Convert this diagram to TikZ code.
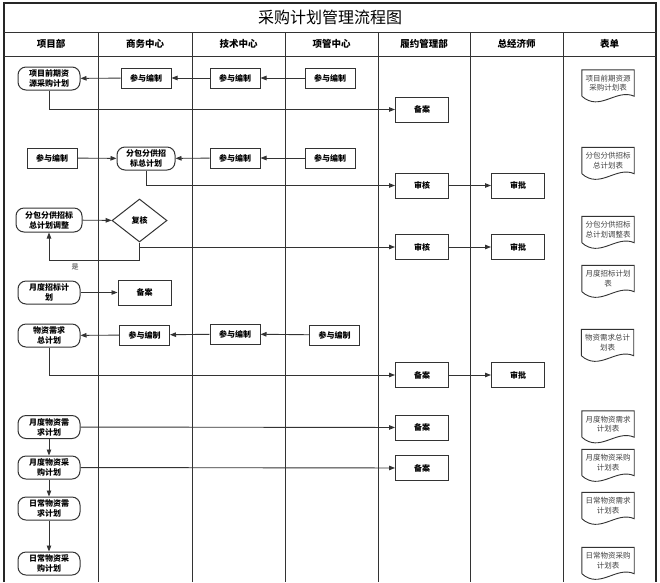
\documentclass[tikz,border=0pt]{standalone}
\usepackage{fontspec}
\setmainfont{Noto Sans CJK SC}
\usetikzlibrary{arrows.meta,shapes.geometric}
\newcommand\docshape[4]{%
  \node[doc] (#1) at (#2,#3) {#4};
  \draw[docline] (#1.south west) -- (#1.north west) -- (#1.north east) -- (#1.south east)
     .. controls ([xshift=-18pt,yshift=8pt]#1.south east) and ([xshift=18pt,yshift=-16pt]#1.south west) .. (#1.south west);
}
\begin{document}
\begin{tikzpicture}[x=1pt,y=-1pt,
  frame/.style={draw=black!85, line width=1.1pt},
  grid/.style={draw=black!80, line width=0.9pt},
  line/.style={draw=black!80, line width=0.9pt},
  arr/.style={line, -{Triangle[length=6pt,width=4.5pt]}},
  term/.style={draw=black!80, line width=1pt, rounded corners=8pt, minimum width=62pt, minimum height=23pt, align=center, inner sep=1pt, font=\fontsize{8}{10}\selectfont\bfseries},
  box/.style={draw=black!80, line width=1pt, minimum width=50pt, minimum height=20pt, inner sep=1pt, font=\fontsize{8}{10}\selectfont\bfseries},
  bigbox/.style={box, minimum width=53pt, minimum height=25pt},
  dia/.style={draw=black!80, line width=1pt, diamond, minimum width=55pt, minimum height=43pt, inner sep=0pt, font=\fontsize{8}{10}\selectfont\bfseries},
  doc/.style={minimum width=52pt, minimum height=26pt, inner sep=0pt, align=center, font=\fontsize{7.5}{9.5}\selectfont, text=black!75},
  docline/.style={draw=black!80, line width=0.9pt},
  hdr/.style={font=\fontsize{9.5}{11}\selectfont\bfseries},
  lbl/.style={font=\fontsize{7}{8}\selectfont, text=black!80},
]
\useasboundingbox (0,0) rectangle (660,582);
\fill[white] (0,0) rectangle (660,582);
% frame
\draw[frame] (4,582) -- (4,3) -- (656,3) -- (656,582);
\draw[grid] (4,32) -- (656,32);
\draw[grid] (4,56) -- (656,56);
\foreach \x in {98,192,285,378,470,563} \draw[grid] (\x,32) -- (\x,582);
\node[font=\fontsize{16}{18}\selectfont] (title) at (330,17.5) {采购计划管理流程图};
\node[hdr] (h1) at (51,44) {项目部};
\node[hdr] (h2) at (145,44) {商务中心};
\node[hdr] (h3) at (238.5,44) {技术中心};
\node[hdr] (h4) at (331.5,44) {项管中心};
\node[hdr] (h5) at (424,44) {履约管理部};
\node[hdr] (h6) at (516.5,44) {总经济师};
\node[hdr] (h7) at (609.5,44) {表单};

% row 1
\node[term] (n1) at (49,78.5) {项目前期资\\源采购计划};
\node[box] (c2r1) at (146,78) {参与编制};
\node[box] (c3r1) at (235,78) {参与编制};
\node[box] (c4r1) at (330,78) {参与编制};
\node[bigbox] (ba1) at (422,109.5) {备案};
\draw[arr] (c4r1) -- (c3r1);
\draw[arr] (c3r1) -- (c2r1);
\draw[arr] (c2r1) -- (n1);
\draw[arr] (n1.south) |- (ba1.west);

% row 2
\node[box] (p1) at (52,158) {参与编制};
\node[term, minimum width=58pt] (n2) at (146,158.5) {分包分供招\\标总计划};
\node[box] (c3r2) at (235,158) {参与编制};
\node[box] (c4r2) at (330,158) {参与编制};
\node[bigbox] (sh2) at (422,185.5) {审核};
\node[bigbox] (sp2) at (518,185.5) {审批};
\draw[arr] (p1) -- (n2);
\draw[arr] (c4r2) -- (c3r2);
\draw[arr] (c3r2) -- (n2);
\draw[arr] (n2.south) |- (sh2.west);
\draw[arr] (sh2) -- (sp2);

% row 3
\node[term, minimum width=66pt, minimum height=24pt] (n3) at (49,220) {分包分供招标\\总计划调整};
\node[dia] (dm) at (139.5,220.5) {复核};
\node[bigbox] (sh3) at (422,247) {审核};
\node[bigbox] (sp3) at (518,247) {审批};
\draw[arr] (n3) -- (dm);
\draw[arr] (dm.south) |- (sh3.west);
\draw[arr] (sh3) -- (sp3);
\coordinate (lp) at (139.5,260);
\draw[arr] (dm.south) -- (lp) -| (n3.south);
\node[lbl] (yes) at (75,266.5) {是};

% row 4
\node[term] (n4) at (49,292.5) {月度招标计\\划};
\node[bigbox] (ba4) at (144.5,292.5) {备案};
\draw[arr] (n4) -- (ba4);

% row 5
\node[term] (n5) at (49,335.5) {物资需求\\总计划};
\node[box] (c2r5) at (144.5,335) {参与编制};
\node[box] (c3r5) at (235,334) {参与编制};
\node[box] (c4r5) at (334.5,335) {参与编制};
\node[bigbox] (ba5) at (422,375) {备案};
\node[bigbox] (sp5) at (518,375) {审批};
\draw[arr] (c4r5) -- (c3r5);
\draw[arr] (c3r5) -- (c2r5);
\draw[arr] (c2r5) -- (n5);
\draw[arr] (n5.south) |- (ba5.west);
\draw[arr] (ba5) -- (sp5);

% rows 6-9
\node[term] (n6) at (49,427) {月度物资需\\求计划};
\node[term] (n7) at (49,467.5) {月度物资采\\购计划};
\node[term] (n8) at (49,508.5) {日常物资需\\求计划};
\node[term] (n9) at (49,563.5) {日常物资采\\购计划};
\node[bigbox] (ba6) at (422,427.5) {备案};
\node[bigbox] (ba7) at (422,468) {备案};
\draw[arr] (n6) -- (ba6);
\draw[arr] (n7) -- (ba7);
\draw[arr] (n6) -- (n7);
\draw[arr] (n7) -- (n8);
\draw[arr] (n8) -- (n9);

% forms
\docshape{f1}{608}{83}{项目前期资源\\采购计划表}
\docshape{f2}{608}{160.5}{分包分供招标\\总计划表}
\docshape{f3}{608}{229.5}{分包分供招标\\总计划调整表}
\docshape{f4}{608}{278.5}{月度招标计划\\表}
\docshape{f5}{607.5}{342.5}{物资需求总计\\划表}
\docshape{f6}{608}{424}{月度物资需求\\计划表}
\docshape{f7}{608}{462.5}{月度物资采购\\计划表}
\docshape{f8}{608}{505.5}{日常物资需求\\计划表}
\docshape{f9}{608}{560.5}{日常物资采购\\计划表}
\end{tikzpicture}
\end{document}
